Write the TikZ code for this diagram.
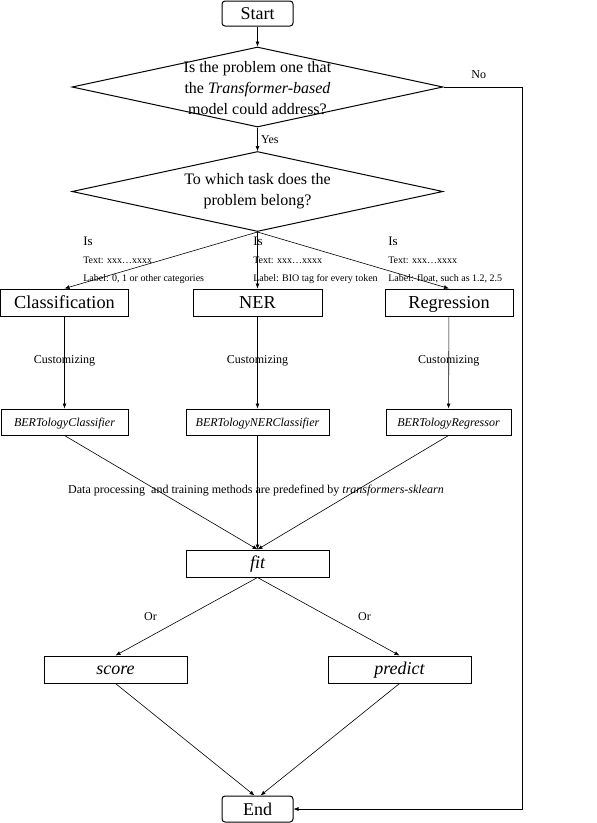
\documentclass[tikz,border=0pt]{standalone}
\usepackage{fontspec}
\setmainfont{Liberation Serif}
\usetikzlibrary{shapes.geometric, arrows.meta, positioning}

\begin{document}
\begin{tikzpicture}[x=1pt,y=-1pt,
                    line width=0.6pt,>={Latex[length=5pt,width=4pt]},
                    term node/.style={draw,rounded corners=3pt,line width=1pt,minimum width=71,minimum height=25,inner sep=0,text height=13pt,text depth=1pt,font=\fontsize{18}{21}\selectfont},
                    task node/.style={draw,line width=1pt,minimum width=128,minimum height=27,inner sep=0,text height=13pt,text depth=1pt,font=\fontsize{18.3}{22}\selectfont},
                    model node/.style={draw,line width=1pt,minimum width=143,minimum height=26,inner sep=0,text height=9pt,text depth=1pt,font=\fontsize{12}{14}\selectfont\itshape},
                    method node/.style={draw,line width=1pt,minimum width=143,minimum height=27,inner sep=0,text height=10pt,text depth=1pt,font=\fontsize{18}{21}\selectfont\itshape},
                    decision node/.style={diamond,draw,line width=1pt,minimum width=371,minimum height=80,inner sep=0},
                    question/.style={align=center,font=\fontsize{16}{21}\selectfont},
                    edge label/.style={font=\fontsize{12}{14}\selectfont},
                    case label/.style={align=left,anchor=west,inner sep=0,font=\fontsize{10}{18}\selectfont}]

\useasboundingbox (0,0) rectangle (597,823);

%Start and the two questions
 \node[term node] (Start) at (257.5,13.5) {Start};
 \node[decision node,label={[question,yshift=-1pt]center:Is the problem one that\\the \textit{Transformer-based}\\model could address?}] (Q1) at (257.5,87) {};
 \node[decision node,label={[question]center:To which task does the\\problem belong?}] (Q2) at (257.5,191.5) {};

 \draw[->] (Start) -- (Q1);
 \draw[->] (Q1) -- node[edge label,right] {Yes} (Q2);

%Tasks
 \node[task node] (Cls) at (64.5,302.5) {Classification};
 \node[task node,minimum width=129] (NER) at (257.5,302.5) {NER};
 \node[task node] (Reg) at (449,302.5) {Regression};

 \foreach \t in {Cls,NER,Reg}
   \draw[->] (Q2.south) -- (\t.north);

 \node[case label] (CaseCls) at (83,260) {{\fontsize{13}{18}\selectfont Is}\\Text: xxx…xxxx\\Label: 0, 1 or other categories};
 \node[case label] (CaseNER) at (253,260) {{\fontsize{13}{18}\selectfont Is}\\Text: xxx…xxxx\\Label: BIO tag for every token};
 \node[case label] (CaseReg) at (388,260) {{\fontsize{13}{18}\selectfont Is}\\Text: xxx…xxxx\\Label: float, such as 1.2, 2.5};

%Models
 \node[model node,minimum width=127] (BCls) at (64.5,422) {BERTologyClassifier};
 \node[model node] (BNER) at (257.5,422) {BERTologyNERClassifier};
 \node[model node,minimum width=125] (BReg) at (448.5,422) {BERTologyRegressor};

 \draw[->] (Cls) -- node[edge label,yshift=2pt] {Customizing} (BCls);
 \draw[->] (NER) -- node[edge label,yshift=2pt] {Customizing} (BNER);
 \draw[->] (Reg) -- node[edge label,yshift=2pt] {Customizing} (BReg);

%Methods
 \node[method node] (Fit) at (257.5,563.5) {fit};
 \node[method node] (Score) at (115.5,669.5) {score};
 \node[method node] (Predict) at (399.5,669.5) {predict};

 \foreach \m in {BCls,BNER,BReg}
   \draw[->] (\m.south) -- (Fit.north);

 \node[edge label] (Predef) at (256,491) {Data processing\ \ and training methods are predefined by \textit{transformers-sklearn}};

 \draw[->] (Fit.south) -- node[edge label,left=26pt] {Or} (Score.north);
 \draw[->] (Fit.south) -- node[edge label,right=26pt] {Or} (Predict.north);

%End
 \node[term node,minimum height=26] (End) at (257.5,809) {End};
 \draw[->] (Score.south) -- ([xshift=-3pt]End.north);
 \draw[->] (Predict.south) -- ([xshift=3pt]End.north);

 \coordinate (NoTurn) at (522,87);
 \draw[->] (Q1.east) -- node[edge label,above=5pt,pos=0.45] {No} (NoTurn) |- (End.east);

\end{tikzpicture}
\end{document}
